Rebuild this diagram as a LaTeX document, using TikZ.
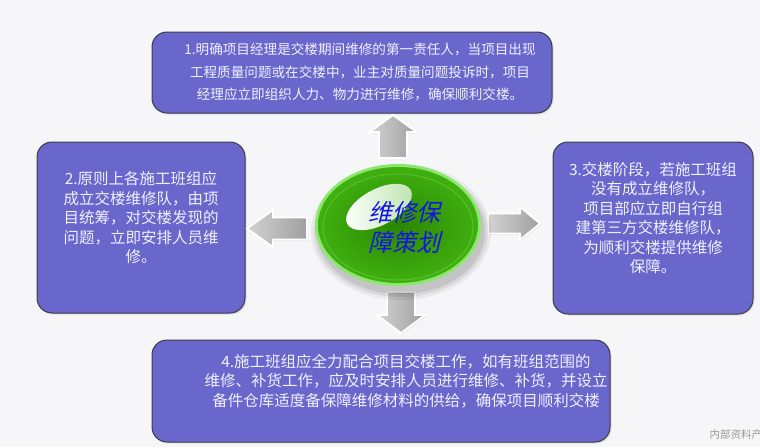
\documentclass[tikz,border=0pt]{standalone}
\usepackage{fontspec}
\setmainfont{Noto Sans CJK SC}
\newfontfamily\slantcjk[FakeSlant=0.25]{Noto Sans CJK SC}
\usetikzlibrary{shadows}

\definecolor{bgpaper}{HTML}{F6F6F8}
\definecolor{boxfill}{HTML}{6967CC}
\definecolor{boxline}{HTML}{3C3C48}
\definecolor{boxtext}{HTML}{F0F0FF}
\definecolor{ballrim}{HTML}{8CE86C}
\definecolor{ballout}{HTML}{40B010}
\definecolor{ballin}{HTML}{2A8600}
\definecolor{titleblue}{HTML}{1414E6}

\tikzset{
  infobox/.style={draw=boxline, line width=1pt, fill=boxfill, rounded corners=15pt, inner sep=0pt,
    drop shadow={opacity=0.2, shadow xshift=1.5pt, shadow yshift=-1.5pt}},
  infotext/.style={text=boxtext, align=center, font=\fontsize{#1}{19.5}\selectfont},
  bigarrow/.style={draw=white, line width=1.8pt, line join=miter,
    left color=gray!35, right color=gray!75,
    drop shadow={opacity=0.25, shadow xshift=1pt, shadow yshift=-1pt}}
}

\begin{document}
\begin{tikzpicture}[x=1pt, y=-1pt]
    \path[use as bounding box] (0,0) rectangle (760,447);
    \clip (0,0) rectangle (760,447);
    \fill[bgpaper] (0,0) rectangle (760,447);

    % four boxes
    \node[infobox, minimum width=400pt, minimum height=81pt] (box1) at (352,72.5) {};
    \node[infobox, minimum width=208pt, minimum height=171pt] (box2) at (141,227.5) {};
    \node[infobox, minimum width=200pt, minimum height=172pt] (box3) at (653,228) {};
    \node[infobox, minimum width=458pt, minimum height=102pt] (box4) at (381,391) {};

    \node[infotext=13.6, font=\fontsize{13.6}{22.5}\selectfont] (text1) at (360,72)
        {1.明确项目经理是交楼期间维修的第一责任人，当项目出现\\
         工程质量问题或在交楼中，业主对质量问题投诉时，项目\\
         经理应立即组织人力、物力进行维修，确保顺利交楼。};
    \node[infotext=15.5] (text2) at (141,218)
        {2.原则上各施工班组应\\成立交楼维修队，由项\\目统筹，对交楼发现的\\问题，立即安排人员维\\修。};
    \node[infotext=15.5] (text3) at (653,218)
        {3.交楼阶段，若施工班组\\没有成立维修队，\\项目部应立即自行组\\建第三方交楼维修队，\\为顺利交楼提供维修\\保障。};
    \node[infotext=15.5] (text4) at (406,381)
        {4.施工班组应全力配合项目交楼工作，如有班组范围的\\
         维修、补货工作，应及时安排人员进行维修、补货，并设立\\
         备件仓库适度备保障维修材料的供给，确保项目顺利交楼};

    % arrows round the ball: centre / turn / length / width / shaft / head
    \foreach \cx/\cy/\ang/\len/\wid/\sh/\hd in {393/136.5/90/43/47/28/17, 277/228.5/180/60/37/22/26,
                                             514/223.5/0/52/33/20/20, 401/312.5/270/41/48/28/18}
        \path[bigarrow, shift={(\cx,\cy)}, rotate=\ang]
            (-\len/2,-\sh/2) -- (\len/2-\hd,-\sh/2) -- (\len/2-\hd,-\wid/2) -- (\len/2,0)
            -- (\len/2-\hd,\wid/2) -- (\len/2-\hd,\sh/2) -- (-\len/2,\sh/2) -- cycle;

    % green ball
    \foreach \r/\o in {8/0.05, 5/0.07, 2/0.09}
        \fill[black, opacity=\o] (401,232) ellipse ({82+\r} and {60+\r});
    \fill[ballrim] (398,225) ellipse (83 and 61);
    \shade[inner color=ballin, outer color=ballout] (398,225) ellipse (80 and 58);
    \draw[ballrim!50!ballout, opacity=0.6, line width=1pt] (398,227) ellipse (75 and 53);
    \shade[shift={(379,207)}, rotate=28, left color=white, right color=ballout!35!white]
        (0,0) ellipse (36 and 18);
    \node[text=titleblue, align=center, font=\slantcjk\fontsize{24}{30}\selectfont] (title) at (404,227)
        {维修保\\障策划};

    \node[anchor=west, text=gray!80, font=\fontsize{10.5}{12}\selectfont] (mark) at (706,435)
        {内部资料产};
\end{tikzpicture}
\end{document}
